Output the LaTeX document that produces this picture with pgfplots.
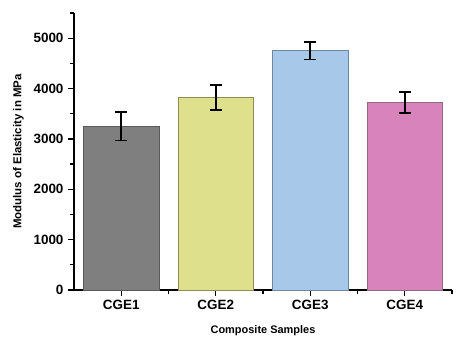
\documentclass[border=0pt]{standalone}
\usepackage{pgfplots}
\pgfplotsset{compat=1.18}
\usepackage{fontspec}
\setmainfont{Liberation Sans}
\definecolor{cgray}{HTML}{7F7F7F}
\definecolor{cgrayE}{HTML}{5A5A5A}
\definecolor{cyel}{HTML}{DFE08B}
\definecolor{cyelE}{HTML}{8C8C55}
\definecolor{cblue}{HTML}{A8C8EA}
\definecolor{cblueE}{HTML}{6E87A3}
\definecolor{cpink}{HTML}{D883BB}
\definecolor{cpinkE}{HTML}{8E6A82}
\begin{document}
\begin{tikzpicture}
\begin{axis}[
  scale only axis=true,
  width=378bp, height=277bp,
  ybar, bar width=0.8, bar shift=0pt,
  xmin=0.5, xmax=4.5, ymin=0, ymax=5500,
  axis x line*=bottom, axis y line*=left,
  axis line style={line width=1.6pt, -},
  xtick={1,2,3,4},
  xticklabels={CGE1,CGE2,CGE3,CGE4},
  minor xtick={1.5,2.5,3.5,4.5},
  ytick={0,1000,2000,3000,4000,5000},
  minor ytick={500,1500,2500,3500,4500,5500},
  tick align=outside,
  major tick length=6bp, minor tick length=3.5bp,
  tick style={line width=1.2pt, black},
  /pgf/number format/assume math mode=true,
  /pgf/number format/1000 sep={},
  ticklabel style={font=\fontsize{13.5}{15}\selectfont\bfseries},
  yticklabel style={xshift=-1bp},
  xticklabel style={yshift=-1bp},
  xlabel={Composite Samples},
  ylabel={Modulus of Elasticity in MPa},
  xlabel style={font=\fontsize{11}{13}\selectfont\bfseries, yshift=-9bp},
  ylabel style={font=\fontsize{11.5}{13}\selectfont\bfseries, yshift=3bp},
  error bars/y dir=both, error bars/y explicit,
  error bars/error mark options={rotate=90, mark size=6bp, line width=1.8pt, black},
  error bars/error bar style={line width=1.6pt, black},
  clip=false,
]
\addplot[fill=cgray, draw=cgrayE, line width=0.8pt] coordinates {(1,3250) +- (0,280)};
\addplot[fill=cyel, draw=cyelE, line width=0.8pt] coordinates {(2,3820) +- (0,250)};
\addplot[fill=cblue, draw=cblueE, line width=0.8pt] coordinates {(3,4750) +- (0,175)};
\addplot[fill=cpink, draw=cpinkE, line width=0.8pt] coordinates {(4,3720) +- (0,205)};
\end{axis}
\path (current axis.south west) +(-74bp,-57bp);
\path (current axis.north east) +(22bp,13bp);
\end{tikzpicture}
\end{document}
